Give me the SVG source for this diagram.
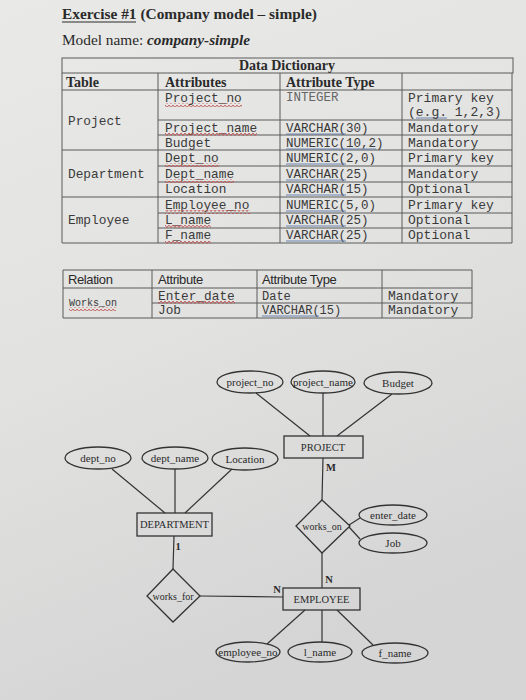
<svg xmlns="http://www.w3.org/2000/svg" width="526" height="700" viewBox="0 0 526 700">
<defs>
  <linearGradient id="bg" x1="0" y1="0" x2="0.3" y2="1">
    <stop offset="0" stop-color="#e9e9e7"/>
    <stop offset="0.5" stop-color="#e2e2e1"/>
    <stop offset="1" stop-color="#d5d5d5"/>
  </linearGradient>
  <pattern id="sq" width="4" height="4" patternUnits="userSpaceOnUse">
    <path d="M0,2.5 L1,1 L3,3.5 L4,2" fill="none" stroke="#c0504d" stroke-width="0.9"/>
  </pattern>
</defs>
<style>
  .title{font-family:"Liberation Serif","DejaVu Serif",serif;fill:#2a2a2a}
  .hdr{font-family:"Liberation Serif","DejaVu Serif",serif;font-weight:bold;font-size:14px;fill:#2a2a2a}
  .mono{font-family:"Liberation Mono","DejaVu Sans Mono",monospace;font-size:12.8px;fill:#3a3a3a}
  .small{font-size:10px}
  .type{font-family:"Liberation Mono","DejaVu Sans Mono",monospace;font-size:12.5px;fill:#3a3a3a}
  .int{fill:#666}
  .rtype{font-size:12px}
  .c4{font-family:"Liberation Mono","DejaVu Sans Mono",monospace;font-size:13px;fill:#3a3a3a}
  .sans{font-family:"Liberation Sans","Arial",sans-serif;font-size:13px;letter-spacing:-0.4px;fill:#2a2a2a}
  .grid{stroke:#5a5a5a;stroke-width:1;fill:none}
  .blue{stroke:#5b78a8;stroke-width:0.9}
  .shape{fill:none;stroke:#333;stroke-width:1.3}
  .conn line{stroke:#333;stroke-width:1.2}
  .lbl{font-family:"Liberation Serif","DejaVu Serif",serif;font-size:11px;fill:#2a2a2a;text-anchor:middle}
  .rel{font-size:10px}
  .ent{font-family:"Liberation Serif","DejaVu Serif",serif;font-size:10.5px;fill:#2a2a2a;text-anchor:middle}
  .card{font-family:"Liberation Serif","DejaVu Serif",serif;font-size:10.5px;font-weight:bold;fill:#2a2a2a;text-anchor:middle}
</style>
<rect x="0" y="0" width="526" height="700" fill="url(#bg)"/>

<!-- Title -->
<text class="title" x="62" y="19" font-size="15" font-weight="bold" textLength="255" lengthAdjust="spacingAndGlyphs">Exercise #1 (Company model – simple)</text>
<line x1="62" y1="22" x2="136" y2="22" stroke="#2a2a2a" stroke-width="1"/>
<text class="title" x="62" y="45" font-size="14.5" textLength="188" lengthAdjust="spacingAndGlyphs">Model name: <tspan font-weight="bold" font-style="italic">company-simple</tspan></text>

<!-- Data dictionary table -->
<g id="data-dictionary">
  <rect x="62" y="58" width="451" height="15" fill="#e3e3e2" class="grid"/>
  <path class="grid" d="M62,73 V243 H512 V73 M62,90 H512 M158,120 H512 M158,135 H512 M62,150 H512 M158,166 H512 M158,182 H512 M62,197 H512 M158,213 H512 M158,228 H512 M158,73 V243 M280,73 V243 M402,73 V243"/>
  <text class="hdr" x="287" y="70" text-anchor="middle">Data Dictionary</text>
  <text class="hdr" x="66" y="87">Table</text>
  <text class="hdr" x="165" y="87">Attributes</text>
  <text class="hdr" x="286" y="87">Attribute Type</text>

  <text class="mono" x="68" y="125">Project</text>
  <text class="mono" x="68" y="178">Department</text>
  <text class="mono" x="68" y="224">Employee</text>

  <text class="mono" x="165" y="102">Project_no</text>
  <text class="mono" x="165" y="132">Project_name</text>
  <text class="mono" x="165" y="147">Budget</text>
  <text class="mono" x="165" y="162">Dept_no</text>
  <text class="mono" x="165" y="178">Dept_name</text>
  <text class="mono" x="165" y="193">Location</text>
  <text class="mono" x="165" y="209">Employee_no</text>
  <text class="mono" x="165" y="224">L_name</text>
  <text class="mono" x="165" y="239">F_name</text>

  <rect x="165" y="103" width="77" height="4" fill="url(#sq)"/>
  <rect x="165" y="133" width="92" height="4" fill="url(#sq)"/>
  <rect x="165" y="163" width="54" height="4" fill="url(#sq)"/>
  <rect x="165" y="179" width="69" height="4" fill="url(#sq)"/>
  <rect x="165" y="210" width="85" height="4" fill="url(#sq)"/>
  <rect x="165" y="225" width="46" height="4" fill="url(#sq)"/>
  <rect x="165" y="240" width="46" height="4" fill="url(#sq)"/>

  <text class="type int" x="286" y="101">INTEGER</text>
  <text class="type" x="286" y="132">VARCHAR(30)</text>
  <text class="type" x="286" y="147">NUMERIC(10,2)</text>
  <text class="type" x="286" y="162">NUMERIC(2,0)</text>
  <text class="type" x="286" y="178">VARCHAR(25)</text>
  <text class="type" x="286" y="193">VARCHAR(15)</text>
  <text class="type" x="286" y="209">NUMERIC(5,0)</text>
  <text class="type" x="286" y="224">VARCHAR(25)</text>
  <text class="type" x="286" y="239">VARCHAR(25)</text>
  <path class="blue" d="M286,134 H346 M286,149 H376 M286,164 H346 M286,180 H346 M286,195 H346 M286,211 H346 M286,226 H346 M286,241 H346 M416,118 H447"/>

  <text class="c4" x="408" y="102">Primary key</text>
  <text class="c4" x="408" y="116">(e.g. 1,2,3)</text>
  <text class="c4" x="408" y="132">Mandatory</text>
  <text class="c4" x="408" y="147">Mandatory</text>
  <text class="c4" x="408" y="162">Primary key</text>
  <text class="c4" x="408" y="178">Mandatory</text>
  <text class="c4" x="408" y="193">Optional</text>
  <text class="c4" x="408" y="209">Primary key</text>
  <text class="c4" x="408" y="224">Optional</text>
  <text class="c4" x="408" y="239">Optional</text>
</g>

<!-- Relation table -->
<g id="relation-table">
  <path class="grid" d="M63,270 H472 V318 H63 Z M63,288 H472 M152,303 H472 M152,270 V318 M257,270 V318 M382,270 V318"/>
  <text class="sans" x="68" y="284">Relation</text>
  <text class="sans" x="158" y="284">Attribute</text>
  <text class="sans" x="262" y="284">Attribute Type</text>
  <text class="mono small" x="69" y="306">Works_on</text>
  <rect x="69" y="307" width="47" height="4" fill="url(#sq)"/>
  <text class="mono" x="158" y="300">Enter_date</text>
  <rect x="158" y="301" width="77" height="4" fill="url(#sq)"/>
  <text class="mono" x="158" y="314">Job</text>
  <text class="type rtype" x="262" y="300">Date</text>
  <text class="type rtype" x="262" y="314">VARCHAR(15)</text>
  <path class="blue" d="M262,316 H319"/>
  <text class="c4" x="388" y="300">Mandatory</text>
  <text class="c4" x="388" y="314">Mandatory</text>
</g>

<!-- Connectors -->
<g id="connectors" class="conn">
  <line x1="256" y1="393" x2="310" y2="436"/>
  <line x1="323" y1="393" x2="323" y2="436"/>
  <line x1="392" y1="394" x2="337" y2="436"/>
  <line x1="323" y1="458" x2="322" y2="500"/>
  <line x1="112" y1="469" x2="165" y2="513"/>
  <line x1="175" y1="469" x2="175" y2="513"/>
  <line x1="232" y1="469" x2="185" y2="513"/>
  <line x1="174" y1="536" x2="173" y2="569"/>
  <line x1="349" y1="525" x2="360" y2="518"/>
  <line x1="349" y1="527" x2="360" y2="539"/>
  <line x1="322" y1="553" x2="322" y2="588"/>
  <line x1="200" y1="596" x2="283" y2="597"/>
  <line x1="305" y1="610" x2="267" y2="644"/>
  <line x1="322" y1="610" x2="322" y2="642"/>
  <line x1="337" y1="610" x2="373" y2="645"/>
</g>

<!-- Entities -->
<g id="project"><rect class="shape" x="284" y="436" width="79" height="22"/><text class="ent" x="323" y="451">PROJECT</text></g>
<g id="department"><rect class="shape" x="137" y="513" width="75" height="23"/><text class="ent" x="174.5" y="528">DEPARTMENT</text></g>
<g id="employee"><rect class="shape" x="283" y="588" width="77" height="22"/><text class="ent" x="321.5" y="603">EMPLOYEE</text></g>

<!-- Relationships -->
<g id="works_on"><polygon class="shape" points="322,500 350,526 322,553 296,526"/><text class="lbl rel" x="322" y="530">works_on</text></g>
<g id="works_for"><polygon class="shape" points="173,569 200,596 173,622 147,596"/><text class="lbl rel" x="173" y="600">works_for</text></g>

<!-- Attributes -->
<g id="project_no"><ellipse class="shape" cx="250" cy="382" rx="33" ry="11"/><text class="lbl" x="250" y="386">project_no</text></g>
<g id="project_name"><ellipse class="shape" cx="323" cy="382" rx="32" ry="11"/><text class="lbl" x="323" y="386">project_name</text></g>
<g id="budget"><ellipse class="shape" cx="398" cy="383" rx="34" ry="11"/><text class="lbl" x="398" y="387">Budget</text></g>
<g id="dept_no"><ellipse class="shape" cx="98" cy="458" rx="33" ry="11"/><text class="lbl" x="98" y="462">dept_no</text></g>
<g id="dept_name"><ellipse class="shape" cx="175" cy="458" rx="33" ry="11"/><text class="lbl" x="175" y="462">dept_name</text></g>
<g id="location"><ellipse class="shape" cx="245" cy="459" rx="33" ry="11"/><text class="lbl" x="245" y="463">Location</text></g>
<g id="enter_date"><ellipse class="shape" cx="393" cy="515" rx="34" ry="10"/><text class="lbl" x="393" y="519">enter_date</text></g>
<g id="job"><ellipse class="shape" cx="393" cy="543" rx="34" ry="10"/><text class="lbl" x="393" y="547">Job</text></g>
<g id="employee_no"><ellipse class="shape" cx="248" cy="652" rx="32" ry="10"/><text class="lbl" x="248" y="656">employee_no</text></g>
<g id="l_name"><ellipse class="shape" cx="320" cy="652" rx="32" ry="10"/><text class="lbl" x="320" y="656">l_name</text></g>
<g id="f_name"><ellipse class="shape" cx="395" cy="653" rx="33" ry="10"/><text class="lbl" x="395" y="657">f_name</text></g>

<!-- Cardinalities -->
<text class="card" x="331" y="471">M</text>
<text class="card" x="178" y="550">1</text>
<text class="card" x="329" y="583">N</text>
<text class="card" x="277" y="593">N</text>
</svg>
